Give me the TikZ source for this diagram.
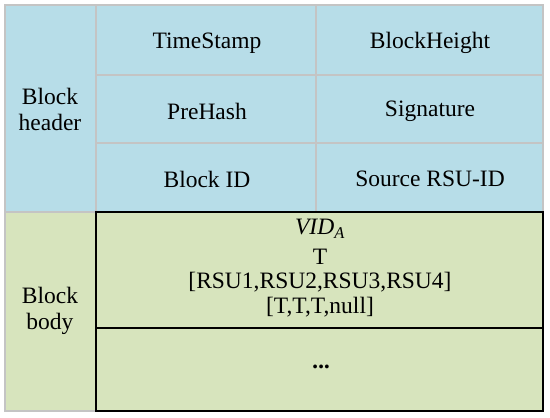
\documentclass[tikz,border=0pt]{standalone}
\usepackage{fontspec}
\setmainfont{Liberation Serif}
\definecolor{hdrblue}{HTML}{B7DDE8}
\definecolor{bodygreen}{HTML}{D7E4BD}
\definecolor{gridgray}{HTML}{C4C4C4}
\begin{document}
\begin{tikzpicture}[x=1pt,y=-1pt,
  lbl/.style={font=\fontsize{23.5}{26}\selectfont,inner sep=0pt,anchor=center,align=center},
  grid/.style={draw=gridgray,line width=1.2pt},
  blk/.style={draw=black,line width=2pt}]
\useasboundingbox (0,0) rectangle (550,418);
% fills
\fill[hdrblue] (5,5) rectangle (543,212);
\fill[bodygreen] (5,212) rectangle (543,411);
% header grid
\draw[grid] (5,5) rectangle (543,212);
\draw[grid] (96,5) -- (96,212);
\draw[grid] (316,5) -- (316,212);
\draw[grid] (96,75) -- (543,75);
\draw[grid] (96,143) -- (543,143);
\draw[grid] (5,212) -- (5,411) -- (96,411);
% body box
\draw[blk] (96,212) rectangle (543,411);
\draw[blk] (96,328) -- (543,328);
% texts
\node[lbl] (hdr) at (50,109) {Block\\header};
\node[lbl] (bdy) at (50,311) {Block\\body};
\node[lbl] (ts) at (207,43) {TimeStamp};
\node[lbl] (bh) at (430,43) {BlockHeight};
\node[lbl] (ph) at (207,111) {PreHash};
\node[lbl] (sg) at (430,111) {Signature};
\node[lbl] (bid) at (207,179) {Block ID};
\node[lbl] (src) at (430,179) {Source RSU-ID};
\node[lbl] (vid) at (320,229) {\textit{VID}\textsubscript{\textit{A}}};
\node[lbl] (t) at (320,257) {T};
\node[lbl] (rsu) at (320,282) {[RSU1,RSU2,RSU3,RSU4]};
\node[lbl] (tt) at (320,307) {[T,T,T,null]};
\node[lbl] (dots) at (322,367) {\textbf{\textit{...}}};
\end{tikzpicture}
\end{document}
